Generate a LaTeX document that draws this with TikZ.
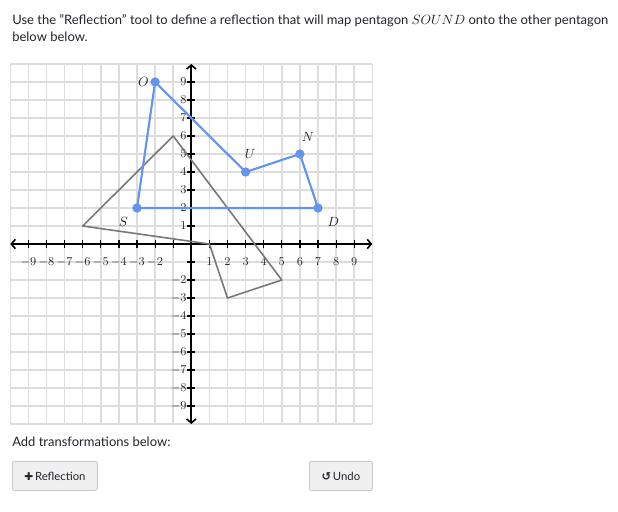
\documentclass[tikz,border=0pt]{standalone}
\usepackage{fontspec}
\setmainfont{Lato}
\newfontfamily\symfont{DejaVu Sans}
\usetikzlibrary{arrows.meta}
\definecolor{kblue}{RGB}{100,149,237}
\definecolor{kgray}{RGB}{120,120,120}
\definecolor{gridc}{RGB}{221,221,221}
\definecolor{txt}{RGB}{33,36,44}
\definecolor{lbl}{RGB}{40,40,50}
\definecolor{btnfill}{RGB}{240,240,240}
\definecolor{btnline}{RGB}{200,200,200}
\tikzset{
  para/.style={anchor=base west, inner sep=0pt, text=txt, font=\fontsize{9.75}{12}\selectfont},
  axisline/.style={line width=1.5pt, black, {Straight Barb[length=3pt,width=7pt,line width=1.2pt]}-{Straight Barb[length=3pt,width=7pt,line width=1.2pt]}},
  tickmark/.style={line width=0.9pt, black},
  gridline/.style={gridc, line width=1.1pt},
  ticklbl/.style={inner sep=0pt, text=lbl, font=\fontsize{9.5}{10}\selectfont},
  bluepoly/.style={kblue, line width=1.6pt, line join=round},
  graypoly/.style={kgray, line width=1.2pt, line join=round},
  vtx/.style={circle, fill=kblue, inner sep=0pt, minimum size=7pt},
  ptlbl/.style={inner sep=0pt, text=txt, font=\fontsize{10}{11}\selectfont},
  btn/.style={draw=btnline, fill=btnfill, rounded corners=1.5pt, line width=0.6pt, text=txt, font=\fontsize{8.5}{10}\selectfont, inner sep=0pt, anchor=north west}
}
\begin{document}
\begin{tikzpicture}[x=0.75pt,y=-0.75pt]
\useasboundingbox (0,0) rectangle (618,511);
\fill[white] (0,0) rectangle (618,511);
\node[para] (line1) at (12,24.5) {Use the {\char34}Reflection{\char34} tool to define a reflection that will map pentagon $SOUND$ onto the other pentagon};
\node[para] (line2) at (12,41.5) {below below.};
\node[para] (add) at (12,446.5) {Add transformations below:};
\node[btn, minimum width=63.75pt, minimum height=21.75pt] (refl) at (12,461) {{\symfont\fontsize{8}{10}\selectfont ✚}\,Reflection};
\node[btn, minimum width=47.25pt, minimum height=21.75pt] (undo) at (309,461) {{\symfont\bfseries\fontsize{8.5}{10}\selectfont ↺}\,Undo};
\begin{scope}[xshift=143.475pt, yshift=-183pt, x=13.575pt, y=13.5pt]
  \foreach \i in {-10,...,10} {
    \draw[gridline] (\i,-10) -- (\i,10);
    \draw[gridline] (-10,\i) -- (10,\i);
  }
  \foreach \i in {-9,...,-1,1,2,...,9} {
    \draw[tickmark] (\i,-0.22) -- (\i,0.22);
    \draw[tickmark] (-0.22,\i) -- (0.22,\i);
  }
  \draw[axisline] (-10,0) -- (10,0);
  \draw[axisline] (0,-10) -- (0,10);
  \foreach \i in {-9,...,-2,1,2,...,9} {
    \node[ticklbl] (xl\i) at (\i,-1) {$\i$};
  }
  \foreach \i in {-9,...,-2,1,2,...,9} {
    \node[ticklbl, anchor=east] (yl\i) at (-0.25,\i) {$\i$};
  }
  % gray pentagon
  \coordinate (g1) at (-6,1);
  \coordinate (g2) at (-1,6);
  \coordinate (g3) at (5,-2);
  \coordinate (g4) at (2,-3);
  \coordinate (g5) at (1,0);
  \draw[graypoly] (g1) -- (g2) -- (g3) -- (g4) -- (g5) -- cycle;
  % blue pentagon SOUND
  \coordinate (S) at (-3,2);
  \coordinate (O) at (-2,9);
  \coordinate (U) at (3,4);
  \coordinate (N) at (6,5);
  \coordinate (D) at (7,2);
  \draw[bluepoly] (S) -- (O) -- (U) -- (N) -- (D) -- cycle;
  \foreach \p in {S,O,U,N,D} \node[vtx] (v\p) at (\p) {};
  \node[ptlbl] (lO) at (-2.65,9) {$O$};
  \node[ptlbl] (lS) at (-3.75,1.2) {$S$};
  \node[ptlbl] (lU) at (3.25,5) {$U$};
  \node[ptlbl] (lN) at (6.45,5.95) {$N$};
  \node[ptlbl] (lD) at (7.85,1.2) {$D$};
\end{scope}
\end{tikzpicture}
\end{document}
